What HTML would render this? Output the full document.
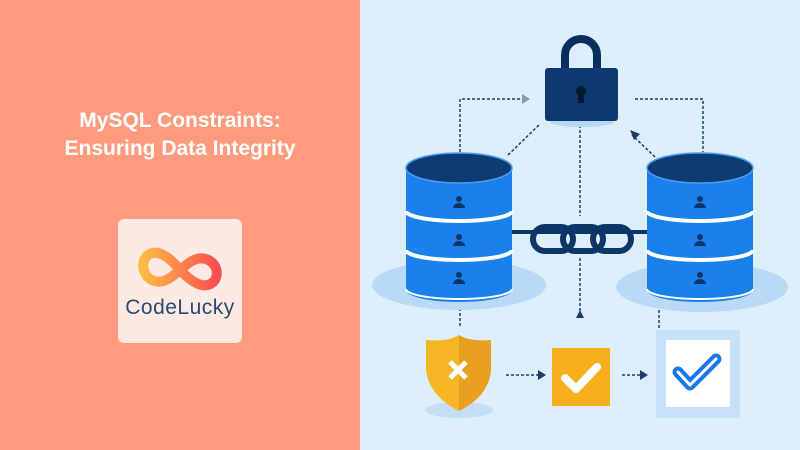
<!DOCTYPE html>
<html><head><style>
body{margin:0;width:800px;height:450px;overflow:hidden;font-family:"Liberation Sans",sans-serif}
#l{position:absolute;left:0;top:0;width:360px;height:450px;background:#FE9B7E}
#r{position:absolute;left:360px;top:0;width:440px;height:450px;background:#DDEEFB}
h1{position:absolute;left:0;top:107px;width:360px;margin:0;text-align:center;color:#fff;font-size:21px;line-height:28px;font-weight:bold}
#logo{position:absolute;left:118px;top:219px;width:124px;height:124px;background:#FDEAE5;border-radius:6px}
#logo span{position:absolute;left:0;top:77px;width:124px;text-align:center;font-size:21px;color:#2A4A6E;letter-spacing:0.5px}
</style></head><body>
<div id="l"><h1>MySQL Constraints:<br>Ensuring Data Integrity</h1>
<div id="logo"><svg width="124" height="80" style="position:absolute;left:0;top:0">
<defs><linearGradient id="g" x1="0" x2="1"><stop offset="0" stop-color="#FDBA45"/><stop offset="1" stop-color="#FE4F50"/></linearGradient></defs>
<path d="M62 51 C50 36 38 30 30 36 C22 42 24 58 36 62 C46 65 54 58 62 51 C70 44 78 37 88 40 C100 44 102 58 94 64 C86 70 74 64 62 51Z" fill="none" stroke="url(#g)" stroke-width="10"/>
</svg><span>CodeLucky</span></div></div>
<div id="r"></div>
<svg width="800" height="450" style="position:absolute;left:0;top:0">
<g stroke="#1E3E66" stroke-width="1.5" stroke-dasharray="3,2" fill="none">
<path d="M460 152 V99 H522"/><path d="M635 99 H703 V152"/>
<path d="M508 155 L540 124"/><path d="M655 157 L632 135"/>
<path d="M580 125 V216"/><path d="M580 258 V318"/>
<path d="M460 308 V326"/><path d="M659 300 V328"/>
<path d="M506 375 H538"/><path d="M622 375 H640"/>
</g>
<polygon points="522,94 530,99 522,104" fill="#8A97A6"/>
<polygon points="630,130 640,134 634,140" fill="#1E3E66"/>
<polygon points="576,318 580,310 584,318" fill="#1E3E66"/>
<polygon points="538,370 546,375 538,380" fill="#1E3E66"/>
<polygon points="640,370 648,375 640,380" fill="#1E3E66"/>
<!-- lock -->
<path d="M565 68 V55 A16 16 0 0 1 597 55 V68" fill="none" stroke="#0B2F5C" stroke-width="8"/>
<ellipse cx="582" cy="122" rx="32" ry="5" fill="#B8D8F5"/>
<rect x="545" y="68" width="73" height="53" rx="3" fill="#0C3A70"/>
<circle cx="581" cy="91" r="5" fill="#061A33"/><rect x="578" y="92" width="6" height="11" fill="#061A33"/>
<!-- shadows -->
<ellipse cx="459" cy="285" rx="87" ry="25" fill="#BAD9F6"/>
<ellipse cx="702" cy="287" rx="86" ry="25" fill="#BAD9F6"/>
<!-- chain -->
<line x1="510" y1="232" x2="650" y2="232" stroke="#0D3566" stroke-width="4"/>
<g fill="none" stroke="#0D3566" stroke-width="6">
<rect x="533" y="227" width="40" height="24" rx="12"/><rect x="563" y="227" width="40" height="24" rx="12"/><rect x="593" y="227" width="38" height="24" rx="12"/>
</g>
<!-- cylinders -->
<g id="c">
<path d="M406 168 V290 A53 12 0 0 0 512 290 V168Z" fill="#1A80EC"/>
<path d="M406 211 A53 10 0 0 0 512 211" stroke="#fff" stroke-width="4" fill="none"/>
<path d="M406 250 A53 10 0 0 0 512 250" stroke="#fff" stroke-width="4" fill="none"/>
<path d="M406 289 A53 10 0 0 0 512 289" stroke="#fff" stroke-width="2" fill="none"/>
<ellipse cx="459" cy="168" rx="53" ry="15" fill="#0C3C73" stroke="#4D9BEF" stroke-width="1.5"/>
<g fill="#0C3568">
<circle cx="459" cy="199" r="3"/><path d="M453 208 A6 5 0 0 1 465 208Z"/>
<circle cx="459" cy="237" r="3"/><path d="M453 246 A6 5 0 0 1 465 246Z"/>
<circle cx="459" cy="275" r="3"/><path d="M453 284 A6 5 0 0 1 465 284Z"/>
</g></g>
<use href="#c" transform="translate(241,0)"/>
<!-- shield -->
<ellipse cx="459" cy="410" rx="34" ry="8" fill="#C3DEF6"/>
<path d="M459 335 Q470 342 491 340 V370 Q489 396 459 411 Q429 396 426 370 V340 Q448 342 459 335Z" fill="#F6B524"/>
<path d="M459 335 Q470 342 491 340 V370 Q489 396 459 411Z" fill="#E9A020"/>
<path d="M450 362 L466 378 M466 362 L450 378" stroke="#fff" stroke-width="5"/>
<rect x="552" y="348" width="58" height="58" fill="#F6AE1C"/>
<path d="M565 378 L576 389 L597 367" stroke="#fff" stroke-width="8" fill="none" stroke-linecap="round" stroke-linejoin="round"/>
<rect x="656" y="330" width="84" height="88" fill="#C6E0F8"/>
<rect x="666" y="340" width="64" height="67" fill="#fff"/>
<path d="M678 372 L690 385 L716 359" stroke="#1A77E6" stroke-width="11" fill="none" stroke-linecap="round" stroke-linejoin="round"/>
<path d="M678 372 L690 385 L716 359" stroke="#fff" stroke-width="3" fill="none" stroke-linecap="round" stroke-linejoin="round"/>
</svg>
</body></html>
